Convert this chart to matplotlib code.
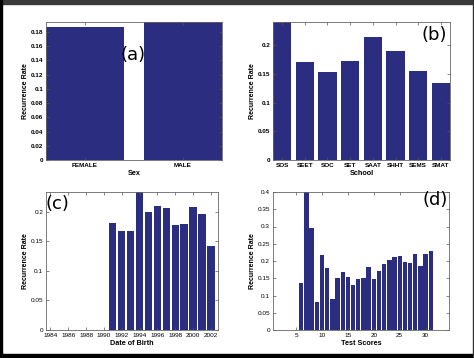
import matplotlib
matplotlib.use('Agg')
from matplotlib import pyplot as plt
from matplotlib.patches import Rectangle
import numpy as np

# --- data ---
sex_labels = ['FEMALE', 'MALE']
sex_rate = [0.1875, 0.194]

school_labels = ['SOS', 'SEET', 'SOC', 'SET', 'SAAT', 'SHHT', 'SEMS', 'SMAT']
school_rate = [0.241, 0.172, 0.1545, 0.173, 0.2147, 0.1895, 0.1557, 0.134]

birth_years = [1991, 1992, 1993, 1994, 1995, 1996, 1997, 1998, 1999, 2000, 2001, 2002]
birth_rate = [0.1804, 0.1675, 0.1675, 0.233, 0.199, 0.2096, 0.2062, 0.177, 0.1788,
              0.2074, 0.1956, 0.141]
birth_ticks = [1984, 1986, 1988, 1990, 1992, 1994, 1996, 1998, 2000, 2002]

scores = list(range(6, 32))
score_rate = [0.1356, 0.40, 0.296, 0.0798, 0.218, 0.179, 0.090, 0.150, 0.169, 0.153,
              0.131, 0.148, 0.150, 0.184, 0.149, 0.172, 0.192, 0.203, 0.2125, 0.2135,
              0.197, 0.195, 0.221, 0.1865, 0.220, 0.230]
score_ticks = [5, 10, 15, 20, 25, 30]

BAR = '#2b2e80'
W, H = 474, 358

plt.rcParams['font.family'] = ['Liberation Sans', 'DejaVu Sans']

fig = plt.figure(figsize=(W / 100, H / 100), dpi=100)


def px_axes(left, top, right, bottom):
    return fig.add_axes([left / W, 1 - bottom / H, (right - left) / W, (bottom - top) / H])


def style(ax, xlabel, bold_ticks=True):
    for s in ax.spines.values():
        s.set_color('#666666')
        s.set_linewidth(0.6)
    ax.tick_params(direction='in', length=2, width=0.5, color='#555555',
                   top=True, right=True, labelsize=4.6, pad=2)
    for lab in ax.get_xticklabels() + ax.get_yticklabels():
        lab.set_fontweight('bold' if bold_ticks else 'normal')
    ax.set_xlabel(xlabel, fontsize=5.2, fontweight='bold', labelpad=1.5)
    ax.set_ylabel('Recurrence Rate', fontsize=5.0, fontweight='bold', labelpad=1)


# (a) sex
ax = px_axes(46, 22, 222, 160)
ax.bar(np.arange(1, 3), sex_rate, width=0.8, color=BAR, edgecolor='none')
ax.set_xlim(0.6, 2.4)
ax.set_ylim(0, max(sex_rate))
ax.set_xticks([1, 2])
ax.set_xticklabels(sex_labels)
ax.set_yticks(np.arange(0, 0.19, 0.02))
ax.set_yticklabels(['0'] + ['%g' % v for v in np.round(np.arange(0.02, 0.19, 0.02), 2)])
style(ax, 'Sex')

# (b) school
ax = px_axes(273, 22, 450, 160)
ax.bar(np.arange(1, 9), school_rate, width=0.8, color=BAR, edgecolor='none')
ax.set_xlim(0.6, 8.4)
ax.set_ylim(0, max(school_rate))
ax.set_xticks(np.arange(1, 9))
ax.set_xticklabels(school_labels)
ax.set_yticks([0, 0.05, 0.1, 0.15, 0.2])
ax.set_yticklabels(['0', '0.05', '0.1', '0.15', '0.2'])
style(ax, 'School')

# (c) date of birth
ax = px_axes(46, 192, 218, 330)
ax.bar(birth_years, birth_rate, width=0.82, color=BAR, edgecolor='none')
ax.set_xlim(1983.5, 2002.8)
ax.set_ylim(0, max(birth_rate))
ax.set_xticks(birth_ticks)
ax.set_yticks([0, 0.05, 0.1, 0.15, 0.2])
ax.set_yticklabels(['0', '0.05', '0.1', '0.15', '0.2'])
style(ax, 'Date of Birth', bold_ticks=False)

# (d) test scores
ax = px_axes(272.7, 192, 449, 330)
ax.bar(scores, score_rate, width=0.84, color=BAR, edgecolor='none')
ax.set_xlim(0.5, 34.5)
ax.set_ylim(0, 0.4)
ax.set_xticks(score_ticks)
ax.set_yticks(np.arange(0, 0.41, 0.05))
ax.set_yticklabels(['0', '0.05', '0.1', '0.15', '0.2', '0.25', '0.3', '0.35', '0.4'])
style(ax, 'Test Scores', bold_ticks=False)

# panel letters
for txt, x, y in [('(a)', 133.5, 55), ('(b)', 434.5, 35), ('(c)', 57.5, 203.5), ('(d)', 435.5, 200)]:
    fig.text(x / W, 1 - y / H, txt, fontsize=13, family='DejaVu Sans',
             ha='center', va='center')

# dark frame around the whole picture
fig.patches.append(Rectangle((0, 1 - 4 / H), 1, 4 / H, transform=fig.transFigure,
                             color='#3a3a3a', zorder=10))
fig.patches.append(Rectangle((0, 0), 1, 4.5 / H, transform=fig.transFigure,
                             color='black', zorder=10))
fig.patches.append(Rectangle((0, 0), 2 / W, 1, transform=fig.transFigure,
                             color='black', zorder=10))
fig.patches.append(Rectangle((1 - 1.5 / W, 0), 1.5 / W, 1, transform=fig.transFigure,
                             color='#333333', zorder=10))

fig.savefig('out.png', dpi=100)
